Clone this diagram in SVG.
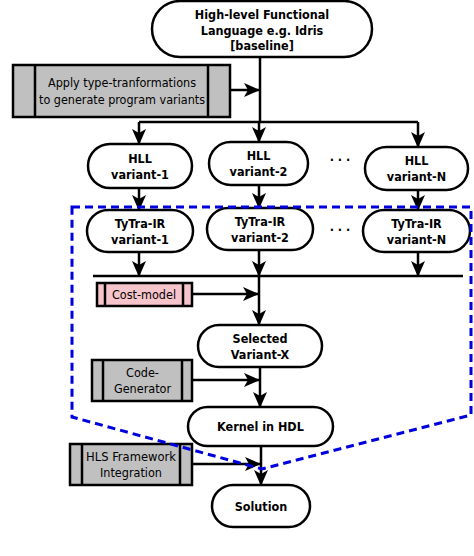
<svg xmlns="http://www.w3.org/2000/svg" width="474" height="556" viewBox="0 0 474 556">
<style>
.pill{fill:#fff;stroke:#000;stroke-width:2.5}
.box{stroke:#000;stroke-width:2.5}
.gray{fill:#c0c0c0}
.pink{fill:#f6c4cb}
.t{font-family:"DejaVu Sans Condensed","DejaVu Sans",sans-serif;font-weight:bold;font-size:12.5px;text-anchor:middle;fill:#000}
.r{font-family:"DejaVu Sans Condensed","DejaVu Sans",sans-serif;font-size:12.5px;text-anchor:middle;fill:#000}
.c{fill:none;stroke:#000;stroke-width:2.5}
.a{marker-end:url(#arr)}
</style>
<defs>
<marker id="arr" markerUnits="userSpaceOnUse" markerWidth="16" markerHeight="14" viewBox="0 0 16 14" refX="15" refY="7" orient="auto">
<path d="M0,0 L16,7 L0,14 L4,7 Z" fill="#000"/>
</marker>
</defs>
<rect width="474" height="556" fill="#fff"/>

<g id="connectors">
<path class="c" d="M260,57 V122"/>
<path class="c" d="M139,122 H418"/>
<path class="c a" d="M139,122 V144"/>
<path class="c a" d="M259,122 V142"/>
<path class="c a" d="M418,122 V147"/>
<path class="c a" d="M230,90 H259"/>
<path class="c a" d="M139,188 V210"/>
<path class="c a" d="M259,185 V208"/>
<path class="c a" d="M418,190 V210"/>
<path class="c a" d="M139,252 V276"/>
<path class="c a" d="M259,250 V276"/>
<path class="c a" d="M418,252 V276"/>
<path class="c" d="M93,276 H463"/>
<path class="c a" d="M259,276 V325"/>
<path class="c a" d="M192,294 H258"/>
<path class="c a" d="M260,367 V407"/>
<path class="c a" d="M192,380 H259"/>
<path class="c a" d="M261,446 V485"/>
<path class="c a" d="M192,464 H260"/>
</g>

<g id="baseline">
<rect class="pill" x="152" y="1" width="220" height="56" rx="28"/>
<text class="t" x="262" y="19">High-level Functional</text>
<text class="t" x="262" y="35">Language e.g. Idris</text>
<text class="t" x="262" y="50">[baseline]</text>
</g>

<g id="apply">
<rect class="box gray" x="13" y="65" width="217" height="52"/>
<path class="c" d="M35,65 V117 M208,65 V117"/>
<text class="r" x="122" y="87" textLength="148" lengthAdjust="spacingAndGlyphs">Apply type-tranformations</text>
<text class="r" x="122" y="104" textLength="166" lengthAdjust="spacingAndGlyphs">to generate program variants</text>
</g>

<g id="hll1">
<rect class="pill" x="88" y="144" width="104" height="44" rx="22"/>
<text class="t" x="140" y="163">HLL</text>
<text class="t" x="140" y="179">variant-1</text>
</g>
<g id="hll2">
<rect class="pill" x="209" y="142" width="99" height="43" rx="21.5"/>
<text class="t" x="258.5" y="160">HLL</text>
<text class="t" x="258.5" y="176">variant-2</text>
</g>
<g id="hllN">
<rect class="pill" x="365" y="147" width="103" height="43" rx="21.5"/>
<text class="t" x="416.5" y="165">HLL</text>
<text class="t" x="416.5" y="181">variant-N</text>
</g>
<text class="t" x="340" y="161">. . .</text>

<g id="ty1">
<rect class="pill" x="87" y="210" width="106" height="42" rx="21"/>
<text class="t" x="140" y="228">TyTra-IR</text>
<text class="t" x="140" y="244">variant-1</text>
</g>
<g id="ty2">
<rect class="pill" x="207" y="208" width="106" height="42" rx="21"/>
<text class="t" x="260" y="226">TyTra-IR</text>
<text class="t" x="260" y="242">variant-2</text>
</g>
<g id="tyN">
<rect class="pill" x="363" y="210" width="107" height="42" rx="21"/>
<text class="t" x="416.5" y="228">TyTra-IR</text>
<text class="t" x="416.5" y="244">variant-N</text>
</g>
<text class="t" x="340" y="231">. . .</text>

<g id="costmodel">
<rect class="box pink" x="97" y="283" width="95" height="23"/>
<path class="c" d="M105,283 V306 M183,283 V306"/>
<text class="r" x="144" y="299">Cost-model</text>
</g>

<g id="selected">
<rect class="pill" x="198" y="325" width="124" height="42" rx="21"/>
<text class="t" x="260" y="343">Selected</text>
<text class="t" x="260" y="359">Variant-X</text>
</g>

<g id="codegen">
<rect class="box gray" x="92" y="360" width="100" height="41"/>
<path class="c" d="M103,360 V401 M182,360 V401"/>
<text class="r" x="142.5" y="377">Code-</text>
<text class="r" x="142.5" y="393">Generator</text>
</g>

<g id="kernel">
<rect class="pill" x="188" y="407" width="145" height="39" rx="19.5"/>
<text class="t" x="260.5" y="431">Kernel in HDL</text>
</g>

<g id="hls">
<rect class="box gray" x="70" y="444" width="122" height="41"/>
<path class="c" d="M82,444 V485 M180,444 V485"/>
<text class="r" x="131" y="461" textLength="90" lengthAdjust="spacingAndGlyphs">HLS Framework</text>
<text class="r" x="131" y="477">Integration</text>
</g>

<g id="solution">
<rect class="pill" x="212" y="485" width="98" height="42" rx="21"/>
<text class="t" x="261" y="511">Solution</text>
</g>

<g id="boundary">
<path d="M72,207 H471 V415 L262,469 L72,417 Z" fill="none" stroke="#0000dd" stroke-width="3" stroke-dasharray="8,5"/>
</g>
</svg>
